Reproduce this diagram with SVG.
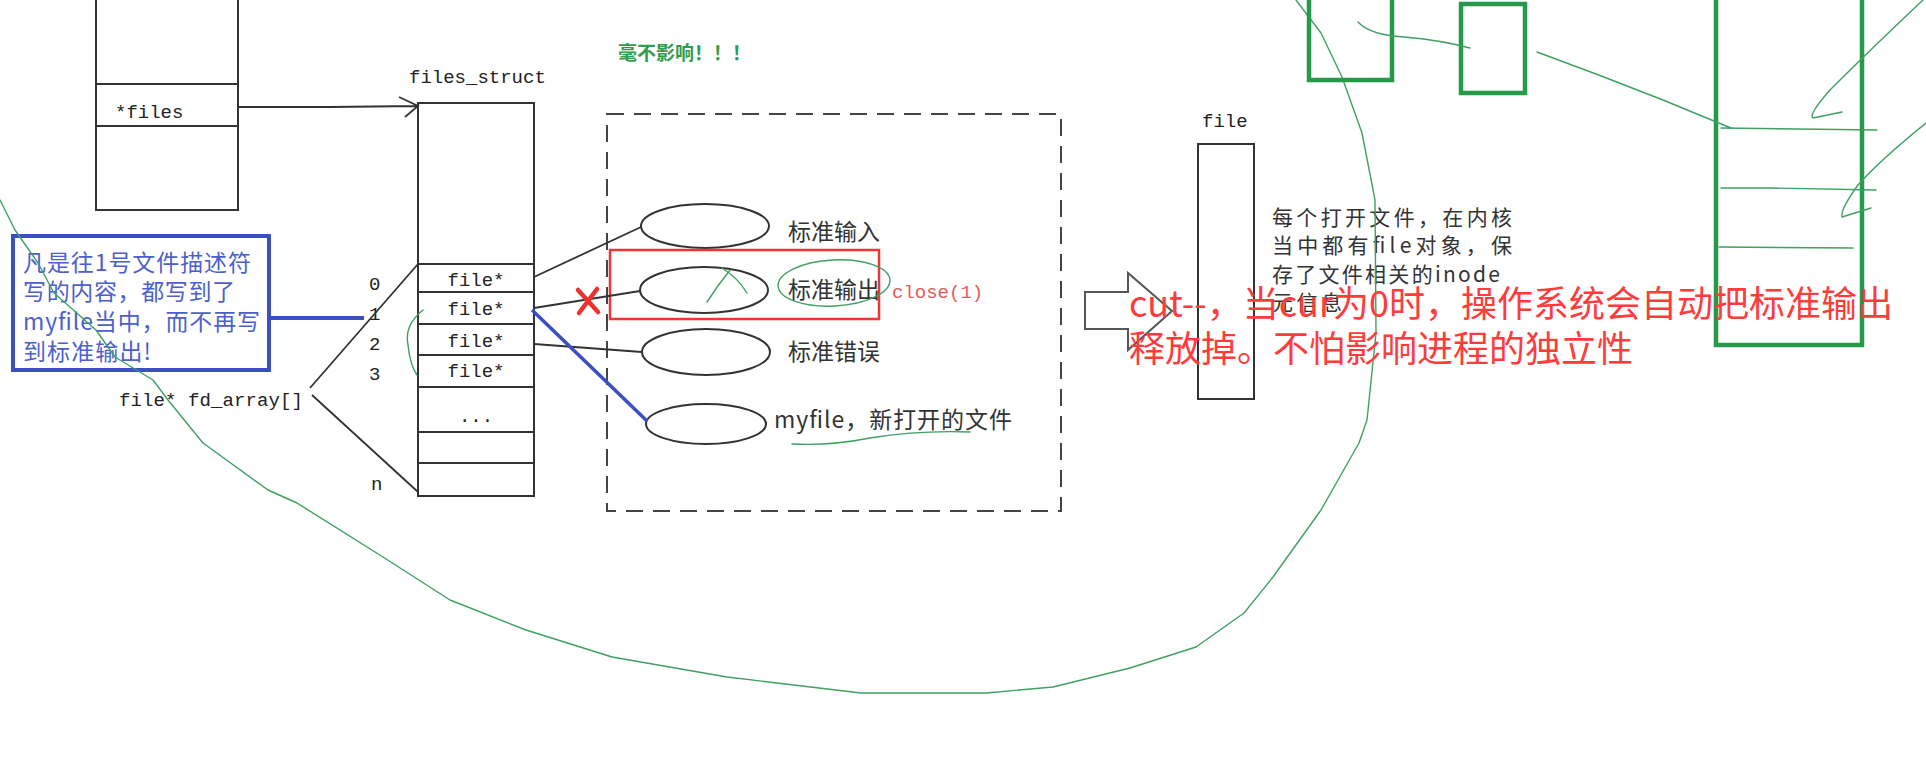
<svg xmlns="http://www.w3.org/2000/svg" width="1926" height="777" viewBox="0 0 1926 777">
<defs>
<style>
.box{fill:none;stroke:#333;stroke-width:2}
.ln{fill:none;stroke:#333;stroke-width:1.8}
.mono{font-family:"Liberation Mono","Noto Sans CJK SC",monospace;font-size:19px;fill:#222}
.cjk{font-family:"Noto Sans CJK SC","Liberation Sans",sans-serif;font-size:23px;fill:#333}
.para{font-family:"Noto Sans CJK SC","Liberation Sans",sans-serif;font-size:21px;fill:#333}
.blue{font-family:"Noto Sans CJK SC","Liberation Sans",sans-serif;font-size:23px;fill:#4d5fcc}
.red{font-family:"Noto Sans CJK SC","Liberation Sans",sans-serif;font-size:36px;fill:#ff3b3b}
.grn{fill:none;stroke:#3ea062;stroke-width:1.4;stroke-linecap:round;stroke-linejoin:round}
.gbox{fill:none;stroke:#27994a;stroke-width:4.5}
</style>
</defs>
<rect width="1926" height="777" fill="#fff"/>

<g id="task_struct">
<path class="box" d="M96,-2 V210 H238 V-2 M96,84 H238 M96,126 H238"/>
<text class="mono" x="115" y="118" font-size="20">*files</text>
</g>

<g id="files_struct">
<text class="mono" x="409" y="83">files_struct</text>
<rect class="box" x="418" y="103" width="116" height="393"/>
<path class="box" d="M418,264 H534 M418,292 H534 M418,324 H534 M418,355 H534 M418,387 H534 M418,432 H534 M418,463 H534"/>
<text class="mono" x="476" y="286" text-anchor="middle">file*</text>
<text class="mono" x="476" y="315" text-anchor="middle">file*</text>
<text class="mono" x="476" y="347" text-anchor="middle">file*</text>
<text class="mono" x="476" y="377" text-anchor="middle">file*</text>
<text class="mono" x="476" y="422" text-anchor="middle">...</text>
<text class="mono" x="369" y="290">0</text>
<text class="mono" x="369" y="320">1</text>
<text class="mono" x="369" y="350">2</text>
<text class="mono" x="369" y="380">3</text>
<text class="mono" x="371" y="490">n</text>
<text class="mono" x="119" y="406" textLength="184">file* fd_array[]</text>
</g>

<g id="note_blue">
<rect x="13" y="236" width="256" height="134" fill="none" stroke="#3b4ec2" stroke-width="4"/>
<text class="blue" x="23" y="271" textLength="228">凡是往1号文件描述符</text>
<text class="blue" x="23" y="300" textLength="212">写的内容，都写到了</text>
<text class="blue" x="23" y="330" textLength="237">myfile当中，而不再写</text>
<text class="blue" x="23" y="360" textLength="128">到标准输出!</text>
</g>

<g id="open_files">
<rect x="607" y="114" width="454" height="397" fill="none" stroke="#444" stroke-width="2" stroke-dasharray="17,10"/>
<ellipse class="box" cx="705" cy="226" rx="64" ry="22"/>
<ellipse class="box" cx="704" cy="290" rx="64" ry="23"/>
<ellipse class="box" cx="706" cy="352" rx="64" ry="23"/>
<ellipse class="box" cx="706" cy="424" rx="60" ry="20"/>
<text class="cjk" x="788" y="240">标准输入</text>
<text class="cjk" x="788" y="298">标准输出</text>
<text class="cjk" x="788" y="360">标准错误</text>
<text class="cjk" x="774" y="428" textLength="238">myfile，新打开的文件</text>
<rect x="610" y="250" width="269" height="69" fill="none" stroke="#f03535" stroke-width="2.5"/>
<text class="mono" x="892" y="298" fill="#e35a5a" style="fill:#e35a5a">close(1)</text>
</g>

<g id="file_obj">
<text class="mono" x="1202" y="127">file</text>
<rect class="box" x="1198" y="144" width="56" height="255"/>
<polygon points="1085,292 1128,292 1128,273 1172,311 1128,350 1128,329 1085,329" fill="#fff" stroke="#555" stroke-width="2"/>
<text class="para" x="1272" y="225" textLength="240">每个打开文件，在内核</text>
<text class="para" x="1272" y="253" textLength="240">当中都有file对象，保</text>
<text class="para" x="1272" y="282" textLength="228">存了文件相关的inode</text>
<text class="para" x="1272" y="310" textLength="70">元信息</text>
</g>

<g id="connectors">
<path class="ln" d="M238,107 L330,107 L418,106 M399,97 L418,106 L405,117"/>
<path class="ln" d="M310,388 L418,264 M312,395 L418,492"/>
<path class="ln" d="M534,277 L641,227"/>
<path class="ln" d="M534,308 L640,291"/>
<path class="ln" d="M534,344 L642,352"/>
<path d="M532,310 L647,421" fill="none" stroke="#3b4ec2" stroke-width="3.5"/>
<path d="M269,318 L364,318" fill="none" stroke="#3b4ec2" stroke-width="4"/>
<path d="M578,290 L598,312 M597,289 L579,313" fill="none" stroke="#ee3030" stroke-width="4.5" stroke-linecap="round"/>
</g>

<g id="green_notes">
<text x="618" y="60" font-family="Noto Sans CJK SC, sans-serif" font-size="19" font-weight="bold" fill="#2e9e4e">毫不影响！！！</text>
<path class="grn" d="M0,200 L15,230 L38,263 L54,293 L96,330 L115,357 L153,380 L168,400 L203,443 L268,490 L297,503 L383,557 L450,600 L526,630 L612,657 L727,677 L861,693 L986,693 L1053,687 L1130,668 L1196,647 L1244,613 L1273,577 L1321,510 L1359,443 L1367,420 L1376,333 L1375,200 L1362,133 L1342,77 L1321,33 L1296,0"/>
<path class="grn" d="M423,310 Q404,325 408,345 Q410,365 417,375"/>
<ellipse class="grn" cx="834" cy="283" rx="56" ry="23" transform="rotate(-3 834 283)"/>
<path class="grn" d="M707,302 Q718,285 730,270 M722,268 Q738,278 747,293"/>
<path class="grn" d="M792,444 Q830,446 870,438 Q920,430 970,432"/>
<rect class="gbox" x="1309" y="-5" width="83" height="85"/>
<rect class="gbox" x="1461" y="4" width="64" height="89"/>
<rect class="gbox" x="1716" y="-5" width="146" height="350"/>
<path class="grn" d="M1358,22 Q1370,35 1404,37 Q1440,40 1470,48"/>
<path class="grn" d="M1537,52 Q1600,75 1663,100 L1731,128"/>
<path class="grn" d="M1721,128 L1877,130 M1721,188 L1770,188 L1876,190 M1719,247 L1853,248"/>
<path class="grn" d="M1923,0 Q1870,50 1830,90 Q1808,115 1813,118 L1842,112"/>
<path class="grn" d="M1926,123 Q1880,160 1858,185 Q1840,210 1842,217 L1871,208"/>
</g>

<g id="red_note">
<text class="red" x="1129" y="317" textLength="764">cut--，当cur为0时，操作系统会自动把标准输出</text>
<text class="red" x="1129" y="362" textLength="504">释放掉。不怕影响进程的独立性</text>
</g>
</svg>
